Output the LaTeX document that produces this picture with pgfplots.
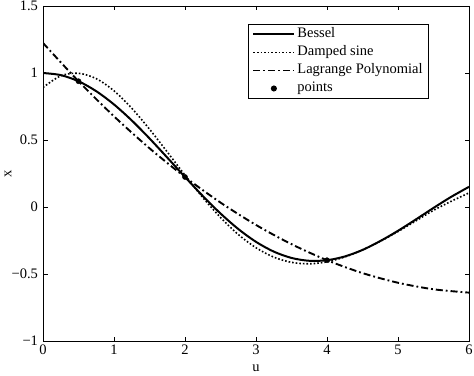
\documentclass[border=0pt]{standalone}
\usepackage{fontspec}
\setmainfont{Liberation Serif}
\usepackage{pgfplots}
\pgfplotsset{compat=1.18}
\pgfplotsset{pointlegend/.style={legend image code/.code={\draw[##1] plot coordinates {(20.5pt,0pt)};}}}
\begin{document}
\begin{tikzpicture}
\begin{axis}[
  scale only axis, width=426pt, height=335pt,
  xmin=0, xmax=6, ymin=-1, ymax=1.5,
  xtick={0,1,2,3,4,5,6}, xticklabels={0,1,2,3,4,5,6},
  ytick={-1,-0.5,0,0.5,1,1.5}, yticklabels={−1,−0.5,0,0.5,1,1.5},
  tick align=inside, tick pos=both, major tick length=4.5pt,
  font=\fontsize{14.5}{16}\selectfont,
  axis line style={line width=0.8pt},
  tick style={line width=0.8pt, black},
  yticklabel style={xshift=-1.5pt},
  xlabel={u}, ylabel={x},
  xlabel style={at={(axis description cs:0.5,-0.0806)}, anchor=center},
  ylabel style={at={(axis description cs:-0.0822,0.5)}, anchor=center},
  legend cell align=left,
  legend style={at={(0.905,0.946)}, anchor=north east, draw=black, line width=0.8pt,
    font=\fontsize{14.5}{16}\selectfont, inner xsep=3.5pt, inner ysep=1pt,
    nodes={text height=10pt, text depth=3pt, inner ysep=2.5pt}},
  legend image code/.code={\draw[#1] (0pt,0pt) -- (41pt,0pt);},
]
\addplot[black, line width=2pt, smooth] coordinates {
(0,1.0000) (0.25,0.9844) (0.5,0.9385) (0.75,0.8642) (1,0.7652) (1.25,0.6459)
(1.5,0.5118) (1.75,0.3690) (2,0.2239) (2.25,0.0827) (2.5,-0.0484) (2.75,-0.1641)
(3,-0.2601) (3.25,-0.3328) (3.5,-0.3801) (3.75,-0.4014) (4,-0.3971) (4.25,-0.3692)
(4.5,-0.3205) (4.75,-0.2540) (5,-0.1776) (5.25,-0.0934) (5.5,-0.0068) (5.75,0.0761) (6,0.1506)};
\addlegendentry{Bessel}
\addplot[black, line width=1.6pt, dash pattern=on 1.6pt off 2pt, smooth] coordinates {
(0,0.892) (0.25,0.979) (0.5,0.998) (0.75,0.958) (1,0.867) (1.25,0.737)
(1.5,0.581) (1.75,0.411) (2,0.237) (2.25,0.071) (2.5,-0.078) (2.75,-0.205)
(3,-0.304) (3.25,-0.374) (3.5,-0.413) (3.75,-0.424) (4,-0.409) (4.25,-0.373)
(4.5,-0.320) (4.75,-0.256) (5,-0.183) (5.25,-0.104) (5.5,-0.025) (5.75,0.043) (6,0.105)};
\addlegendentry{Damped sine}
\addplot[black, line width=1.9pt, dash pattern=on 7pt off 3pt on 1.8pt off 3pt, smooth] coordinates {
(0,1.2241) (0.5,0.9385) (1,0.6766) (1.5,0.4384) (2,0.2239) (2.5,0.0331) (3,-0.1340)
(3.5,-0.2774) (4,-0.3971) (4.5,-0.4931) (5,-0.5654) (5.5,-0.6140) (6,-0.6389)};
\addlegendentry{Lagrange Polynomial}
\addplot[black, only marks, mark=*, mark size=2.6pt, pointlegend] coordinates {
(0.5,0.9385) (2,0.2239) (4,-0.3971)};
\addlegendentry{points}
\end{axis}
\pgfresetboundingbox
\path[use as bounding box] ([xshift=-43pt,yshift=-34pt]current axis.south west) rectangle ([xshift=5pt,yshift=6pt]current axis.north east);
\end{tikzpicture}
\end{document}
